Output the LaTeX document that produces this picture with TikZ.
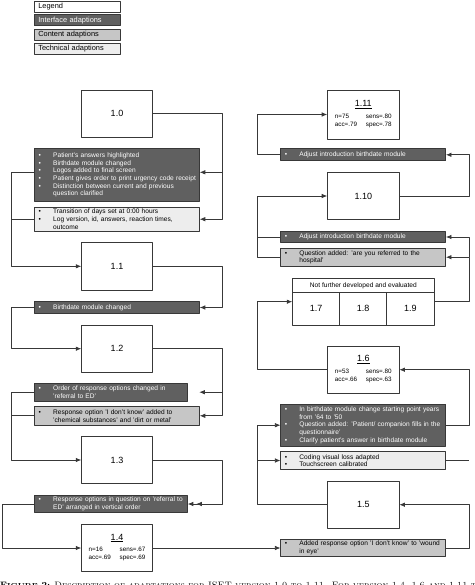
\documentclass[tikz,border=0pt]{standalone}
\usepackage{fontspec}
\setsansfont{Liberation Sans}
\usetikzlibrary{arrows.meta}
\definecolor{linec}{HTML}{383838}
\definecolor{ifacec}{HTML}{606060}
\definecolor{contc}{HTML}{C6C6C6}
\definecolor{techc}{HTML}{EDEDED}
\newcommand\itemb[1]{\mbox{\makebox[14.5pt][l]{\textbullet}#1}}
\newcommand\itemc[1]{\mbox{\hspace*{14.5pt}#1}}
\newcommand\vstat[5]{\underline{#1}\\[3pt]{\fontsize{6.3}{8}\selectfont\begin{tabular}{@{}p{31pt}@{}l@{}}#2&#3\\#4&#5\end{tabular}}}
\begin{document}
\begin{tikzpicture}[x=1pt, y=-1pt, line join=round,
	adbox/.style={draw=linec, line width=0.9pt, inner xsep=4pt, inner ysep=0pt, align=left, font=\sffamily\fontsize{6.6}{7.7}\selectfont},
	iface/.style={adbox, fill=ifacec, text=white},
	cont/.style={adbox, fill=contc},
	tech/.style={adbox, fill=techc},
	wide/.style={text width=156.6pt},
	narrow/.style={text width=144.6pt},
	legbox/.style={adbox, text width=77.7pt, minimum height=11pt, font=\sffamily\fontsize{7.4}{8}\selectfont},
	ver/.style={draw=linec, fill=white, line width=0.9pt, minimum width=70.6pt, minimum height=47.3pt, inner sep=0pt, align=center, font=\sffamily\fontsize{9}{10}\selectfont},
	cell/.style={draw=linec, fill=white, line width=0.9pt, inner sep=0pt, font=\sffamily\fontsize{9}{10}\selectfont},
	arr/.style={conn, -{Latex[length=5.5pt,width=4.5pt]}},
	arrtwo/.style={conn, -{Latex[length=5.5pt,width=4.5pt,sep=3pt]Latex[length=5.5pt,width=4.5pt]}},
	conn/.style={draw=linec, line width=0.7pt}]
	%Khung hinh
	\useasboundingbox (0,0) rectangle (474,585);
	\clip (0,0) rectangle (474,585);
	%Cac truc noi
	\def\xa{11.5}   \def\xb{222.3}
	\def\xc{257.3}  \def\xd{469.3}
	\def\xe{2.7}
	%Chu thich
	\node[legbox, fill=white] (leg) at (77.2,6.5) {Legend};
	\node[legbox, fill=ifacec, text=white] (legi) at (77.2,20.3) {Interface adaptions};
	\node[legbox, fill=contc] (legc) at (77.2,34.8) {Content adaptions};
	\node[legbox, fill=techc] (legt) at (77.2,48.8) {Technical adaptions};
	%Cac phien ban cot trai
	\node[ver] (v10) at (117,113.7) {1.0};
	\node[ver] (v11) at (117,266.3) {1.1};
	\node[ver] (v12) at (117,348.7) {1.2};
	\node[ver] (v13) at (117,460) {1.3};
	\node[ver] (v14) at (117,548) {\vstat{1.4}{n=16}{sens=.67}{acc=.69}{spec=.69}};
	%Cac phien ban cot phai
	\node[ver, minimum width=71.3pt, minimum height=49pt] (v111) at (363.3,114.5) {\vstat{1.11}{n=75}{sens=.80}{acc=.79}{spec=.78}};
	\node[ver, minimum width=71.3pt] (v110) at (363.3,196) {1.10};
	\node[ver, minimum width=71.3pt] (v16) at (363.3,369.7) {\vstat{1.6}{n=53}{sens=.80}{acc=.66}{spec=.63}};
	\node[ver, minimum width=71.3pt] (v15) at (363.3,504.7) {1.5};
	%Nhom 1.7 - 1.9
	\node[cell, minimum width=141.3pt, minimum height=14pt, font=\sffamily\fontsize{6.6}{7.7}\selectfont] (hdr) at (363.35,285.3) {Not further developed and evaluated};
	\node[cell, minimum width=46.6pt, minimum height=33pt] (c17) at (316,308.8) {1.7};
	\node[cell, minimum width=47.4pt, minimum height=33pt] (c18) at (363,308.8) {1.8};
	\node[cell, minimum width=47.3pt, minimum height=33pt] (c19) at (410.35,308.8) {1.9};
	%Cac thay doi cot trai
	\node[iface, wide, minimum height=53.4pt] (a1i) at (117,175) {%
		\itemb{Patient's answers highlighted}\\
		\itemb{Birthdate module changed}\\
		\itemb{Logos added to final screen}\\
		\itemb{Patient gives order to print urgency code receipt}\\
		\itemb{Distinction between current and previous}\\
		\itemc{question clarified}};
	\node[tech, wide, minimum height=23.7pt] (a1t) at (117,219.2) {%
		\itemb{Transition of days set at 0:00 hours}\\
		\itemb{Log version, id, answers, reaction times,}\\
		\itemc{outcome}};
	\node[iface, wide, minimum height=11.6pt] (a2i) at (117,307.5) {\itemb{Birthdate module changed}};
	\node[iface, narrow, minimum height=17.7pt] (a3i) at (111,392.2) {%
		\itemb{Order of response options changed in}\\
		\itemc{'referral to ED'}};
	\node[cont, wide, minimum height=18.3pt] (a3c) at (117,415.8) {%
		\itemb{Response option 'I don't know' added to}\\
		\itemc{'chemical substances' and 'dirt or metal'}};
	\node[iface, narrow, minimum height=16.6pt] (a4i) at (111,504) {%
		\itemb{Response options in question on 'referral to}\\
		\itemc{ED' arranged in vertical order}};
	%Cac thay doi cot phai
	\node[cont, wide, minimum height=17.4pt] (b1c) at (363.2,548) {%
		\itemb{Added response option 'I don't know' to 'wound}\\
		\itemc{in eye'}};
	\node[tech, wide, minimum height=17.6pt] (b2t) at (363.2,460.5) {%
		\itemb{Coding visual loss adapted}\\
		\itemb{Touchscreen calibrated}};
	\node[iface, wide, minimum height=41.7pt] (b2i) at (363.2,425.2) {%
		\itemb{In birthdate module change starting point years}\\
		\itemc{from '64 to '50}\\
		\itemb{Question added: 'Patient/ companion fills in the}\\
		\itemc{questionnaire'}\\
		\itemb{Clarify patient's answer in birthdate module}};
	\node[cont, wide, minimum height=17.7pt] (b3c) at (363.2,257.2) {%
		\itemb{Question added: 'are you referred to the}\\
		\itemc{hospital'}};
	\node[iface, wide, minimum height=10.6pt] (b3i) at (363.2,237) {\itemb{Adjust introduction birthdate module}};
	\node[iface, wide, minimum height=11.7pt] (b4i) at (363.2,154.8) {\itemb{Adjust introduction birthdate module}};
	\coordinate (a3tip) at (199.3,392.2);
	%Cac duong noi cot trai
	\draw[arr] (v10.east) -- (\xb,113.7) |- (a1i.east |- 0,172.3);
	\draw[arr] (\xb,172.3) |- (a1t.east);
	\draw[arr] (a1i.west |- 0,172.3) -- (\xa,172.3) |- (v11.west);
	\draw[conn] (a1t.west) -- (\xa,219.2);
	\draw[arr] (v11.east) -- (\xb,266.3) |- (a2i.east);
	\draw[arr] (a2i.west) -- (\xa,307.5) |- (v12.west);
	\draw[arr] (v12.east) -- (\xb,348.7) |- (a3c.east);
	\draw[arr] (\xb,392.2) -- (a3tip);
	\draw[arr] (a3i.west) -- (\xa,392.2) |- (v13.west);
	\draw[conn] (a3c.west) -- (\xa,415.8);
	\draw[arrtwo] (v13.east) -- (\xb,460) |- (a4i.east);
	\draw[arr] (a4i.west) -- (\xe,504) |- (v14.west);
	\draw[arr] (v14.east) -- (b1c.west);
	%Cac duong noi cot phai
	\draw[arr] (b1c.east) -- (\xd,548) |- (v15.east);
	\draw[arr] (v15.west) -- (\xc,504.7) |- (b2t.west);
	\draw[arr] (\xc,460.5) |- (b2i.west);
	\draw[arr] (b2i.east) -- (\xd,425.2) |- (v16.east);
	\draw[conn] (b2t.east) -- (\xd,460.5);
	\draw[arr] (v16.west) -- (\xc,369.7) |- (c17.west |- 0,301.7);
	\draw[arr] (c19.east |- 0,301.7) -- (\xd,301.7) |- (b3c.east);
	\draw[arr] (\xd,257.2) |- (b3i.east);
	\draw[arr] (b3c.west) -- (\xc,257.2) |- (v110.west);
	\draw[conn] (b3i.west) -- (\xc,237);
	\draw[arr] (v110.east) -- (\xd,196) |- (b4i.east);
	\draw[arr] (b4i.west) -- (\xc,154.8) |- (v111.west);
	%Chu thich hinh
	\node[anchor=base west, inner sep=0pt, font=\fontsize{9.3}{11}\selectfont] (cap) at (0,588) {{\bfseries F{\fontsize{7.2}{8}\selectfont IGURE} 2:} \textsc{Description of adaptations for ISET version 1.0 to 1.11. For version 1.4, 1.6 and 1.11 the}};
\end{tikzpicture}
\end{document}
